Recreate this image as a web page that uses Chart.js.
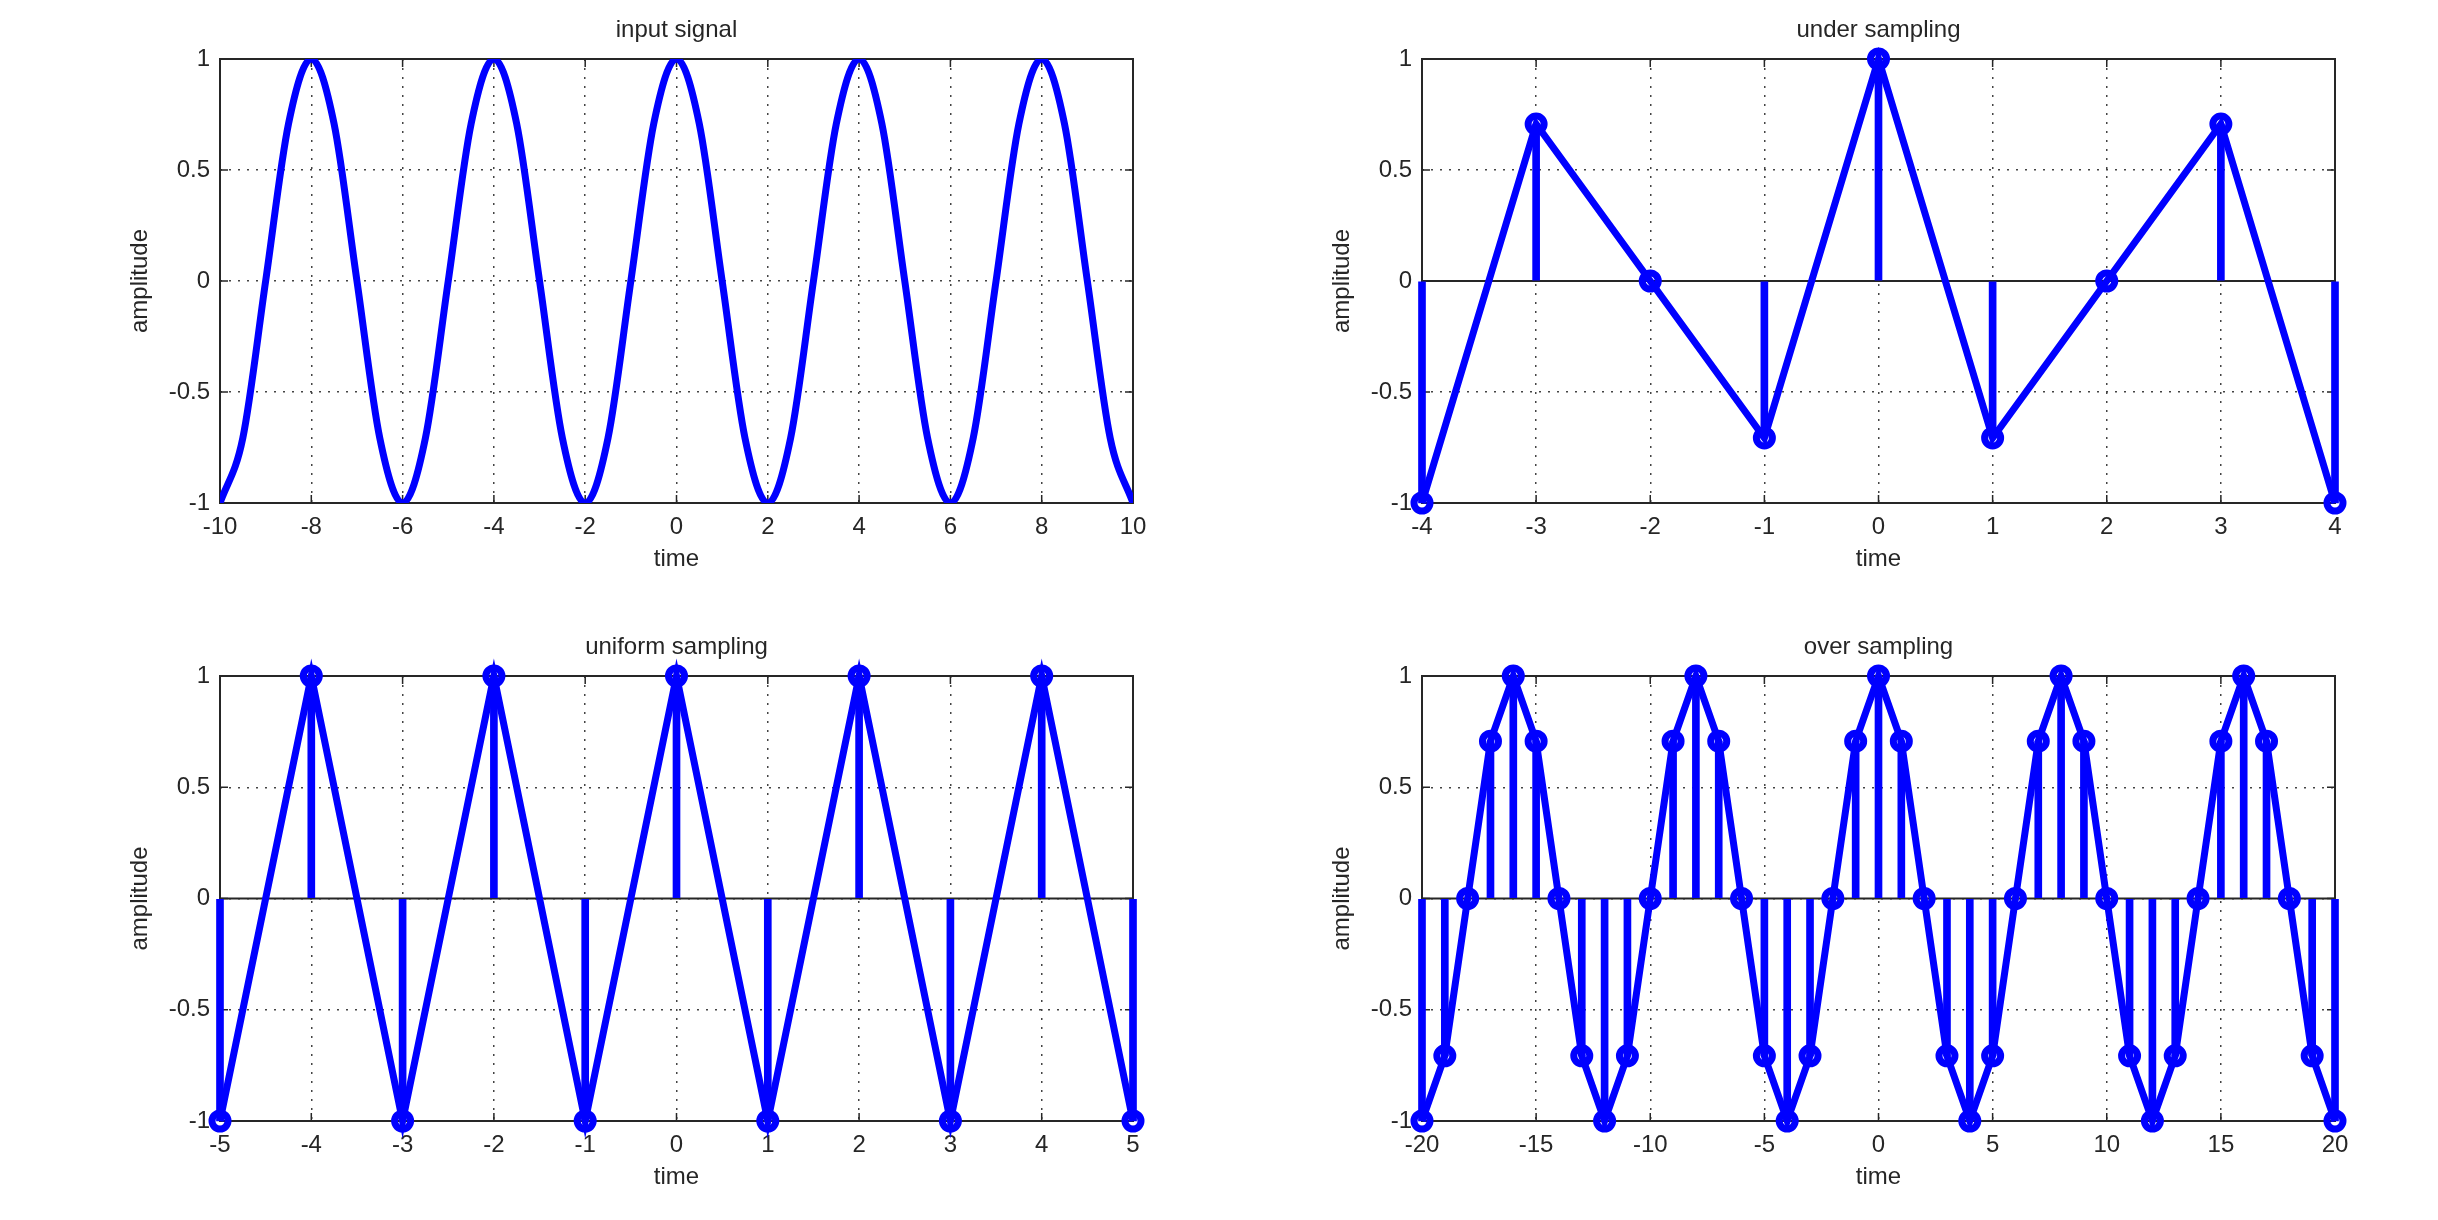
<!DOCTYPE html>
<html>
<head>
<meta charset="utf-8">
<title>sampling</title>
<script src="https://cdn.jsdelivr.net/npm/chart.js@4.4.1/dist/chart.umd.min.js"></script>
<style>
  html, body { margin: 0; padding: 0; background: #fff; overflow: hidden; width: 2438px; height: 1220px; }
  canvas { position: absolute; }
</style>
</head>
<body>
<canvas id="inputChart"></canvas>
<canvas id="underChart"></canvas>
<canvas id="uniformChart"></canvas>
<canvas id="overChart"></canvas>
<script>
// Amplitude ticks shared by all four panels
const yTicks = [-1, -0.5, 0, 0.5, 1];

// input signal (continuous cosine)
const inputTicks = [-10, -8, -6, -4, -2, 0, 2, 4, 6, 8, 10];
const inputTime = [-10, -9.5, -9, -8.5, -8, -7.5, -7, -6.5, -6, -5.5, -5, -4.5, -4, -3.5, -3, -2.5, -2, -1.5, -1, -0.5,
  0, 0.5, 1, 1.5, 2, 2.5, 3, 3.5, 4, 4.5, 5, 5.5, 6, 6.5, 7, 7.5, 8, 8.5, 9, 9.5, 10];
const inputAmp = [-1, -0.707, 0, 0.707, 1, 0.707, 0, -0.707,
  -1, -0.707, 0, 0.707, 1, 0.707, 0, -0.707,
  -1, -0.707, 0, 0.707, 1, 0.707, 0, -0.707,
  -1, -0.707, 0, 0.707, 1, 0.707, 0, -0.707,
  -1, -0.707, 0, 0.707, 1, 0.707, 0, -0.707,
  -1];

// under sampling
const underTicks = [-4, -3, -2, -1, 0, 1, 2, 3, 4];
const underTime = [-4, -3, -2, -1, 0, 1, 2, 3, 4];
const underAmp = [-1, 0.707, 0, -0.707, 1, -0.707, 0, 0.707, -1];

// uniform sampling
const uniformTicks = [-5, -4, -3, -2, -1, 0, 1, 2, 3, 4, 5];
const uniformTime = [-5, -4, -3, -2, -1, 0, 1, 2, 3, 4, 5];
const uniformAmp = [-1, 1, -1, 1, -1, 1, -1, 1, -1, 1, -1];

// over sampling
const overTicks = [-20, -15, -10, -5, 0, 5, 10, 15, 20];
const overTime = [-20, -19, -18, -17, -16, -15, -14, -13, -12, -11, -10, -9, -8, -7, -6, -5, -4, -3, -2, -1,
  0, 1, 2, 3, 4, 5, 6, 7, 8, 9, 10, 11, 12, 13, 14, 15, 16, 17, 18, 19, 20];
const overAmp = [-1, -0.707, 0, 0.707, 1, 0.707, 0, -0.707,
  -1, -0.707, 0, 0.707, 1, 0.707, 0, -0.707,
  -1, -0.707, 0, 0.707, 1, 0.707, 0, -0.707,
  -1, -0.707, 0, 0.707, 1, 0.707, 0, -0.707,
  -1, -0.707, 0, 0.707, 1, 0.707, 0, -0.707,
  -1];

const BLUE = "#0000ff";
const INK = "#262626";
const FONT = "'Liberation Sans', Arial, Helvetica, sans-serif";

Chart.defaults.font.family = FONT;
Chart.defaults.font.size = 24;
Chart.defaults.color = INK;

// MATLAB style box + inward tick marks, drawn under the data
const boxPlugin = {
  id: "matlabBox",
  beforeDatasetsDraw(chart) {
    const { ctx, chartArea: a, scales } = chart;
    ctx.save();
    ctx.strokeStyle = INK;
    ctx.lineWidth = 1.5;
    ctx.beginPath();
    scales.x.ticks.forEach(t => {
      const px = scales.x.getPixelForValue(t.value);
      ctx.moveTo(px, a.bottom); ctx.lineTo(px, a.bottom - 8);
      ctx.moveTo(px, a.top); ctx.lineTo(px, a.top + 8);
    });
    scales.y.ticks.forEach(t => {
      const py = scales.y.getPixelForValue(t.value);
      ctx.moveTo(a.left, py); ctx.lineTo(a.left + 8, py);
      ctx.moveTo(a.right, py); ctx.lineTo(a.right - 8, py);
    });
    ctx.stroke();
    ctx.lineWidth = 2;
    ctx.strokeRect(a.left, a.top, a.right - a.left, a.bottom - a.top);
    ctx.restore();
  }
};

function makeChart(id, rect, title, xTicks, datasets) {
  const canvas = document.getElementById(id);
  const side = 100, top = 59, bottom = 90;
  canvas.width = rect.R - rect.L + 2 * side;
  canvas.height = rect.B - rect.T + top + bottom;
  canvas.style.left = (rect.L - side) + "px";
  canvas.style.top = (rect.T - top) + "px";

  return new Chart(canvas, {
    type: "line",
    data: { datasets },
    plugins: [boxPlugin],
    options: {
      responsive: false,
      animation: false,
      layout: { padding: { left: 0, right: side, top: 0, bottom: 0 } },
      plugins: {
        legend: { display: false },
        tooltip: { enabled: false },
        title: {
          display: true,
          fullSize: false,
          text: title,
          color: INK,
          font: { size: 24, weight: "normal" },
          padding: { top: 15.6, bottom: 14.6 }
        }
      },
      scales: {
        x: {
          type: "linear",
          min: xTicks[0],
          max: xTicks[xTicks.length - 1],
          offset: false,
          afterBuildTicks: s => { s.ticks = xTicks.map(v => ({ value: v })); },
          afterFit: s => { s.height = bottom; },
          grid: { color: "#444", lineWidth: 1.5, drawTicks: false, offset: false },
          border: { display: false, dash: [2, 7] },
          ticks: { padding: 10, autoSkip: false, maxRotation: 0, callback: v => String(v) },
          title: { display: true, text: "time", padding: { top: 0, bottom: 19.6 } }
        },
        y: {
          type: "linear",
          min: -1,
          max: 1,
          afterBuildTicks: s => { s.ticks = yTicks.map(v => ({ value: v })); },
          afterFit: s => { s.width = side; },
          grid: { color: "#444", lineWidth: 1.5, drawTicks: false },
          border: { display: false, dash: [2, 7] },
          ticks: { padding: 10, callback: v => String(v) },
          title: { display: true, text: "amplitude", padding: { top: 5.6, bottom: 0 } }
        }
      }
    }
  });
}

function stemDatasets(xs, ys) {
  const pts = xs.map((x, i) => ({ x, y: ys[i] }));
  return [
    {
      type: "line", data: pts, borderColor: BLUE, borderWidth: 7,
      pointRadius: 8, pointBorderWidth: 7, pointBorderColor: BLUE,
      pointBackgroundColor: "rgba(0,0,0,0)", tension: 0, clip: false, order: 1
    },
    {
      type: "bar", data: xs.map((x, i) => ({ x, y: [0, ys[i]] })),
      backgroundColor: BLUE, borderWidth: 0, barThickness: 7, clip: false, order: 2
    },
    {
      type: "line", data: [{ x: xs[0], y: 0 }, { x: xs[xs.length - 1], y: 0 }],
      borderColor: INK, borderWidth: 2, pointRadius: 0, order: 3
    }
  ];
}

makeChart("inputChart", { L: 220, T: 59, R: 1133, B: 503 }, "input signal", inputTicks, [{
  data: inputTime.map((x, i) => ({ x, y: inputAmp[i] })),
  borderColor: BLUE, borderWidth: 7, pointRadius: 0, cubicInterpolationMode: "monotone"
}]);

makeChart("underChart", { L: 1422, T: 59, R: 2335, B: 503 }, "under sampling", underTicks,
  stemDatasets(underTime, underAmp));

makeChart("uniformChart", { L: 220, T: 676, R: 1133, B: 1121 }, "uniform sampling", uniformTicks,
  stemDatasets(uniformTime, uniformAmp));

makeChart("overChart", { L: 1422, T: 676, R: 2335, B: 1121 }, "over sampling", overTicks,
  stemDatasets(overTime, overAmp));
</script>
</body>
</html>
